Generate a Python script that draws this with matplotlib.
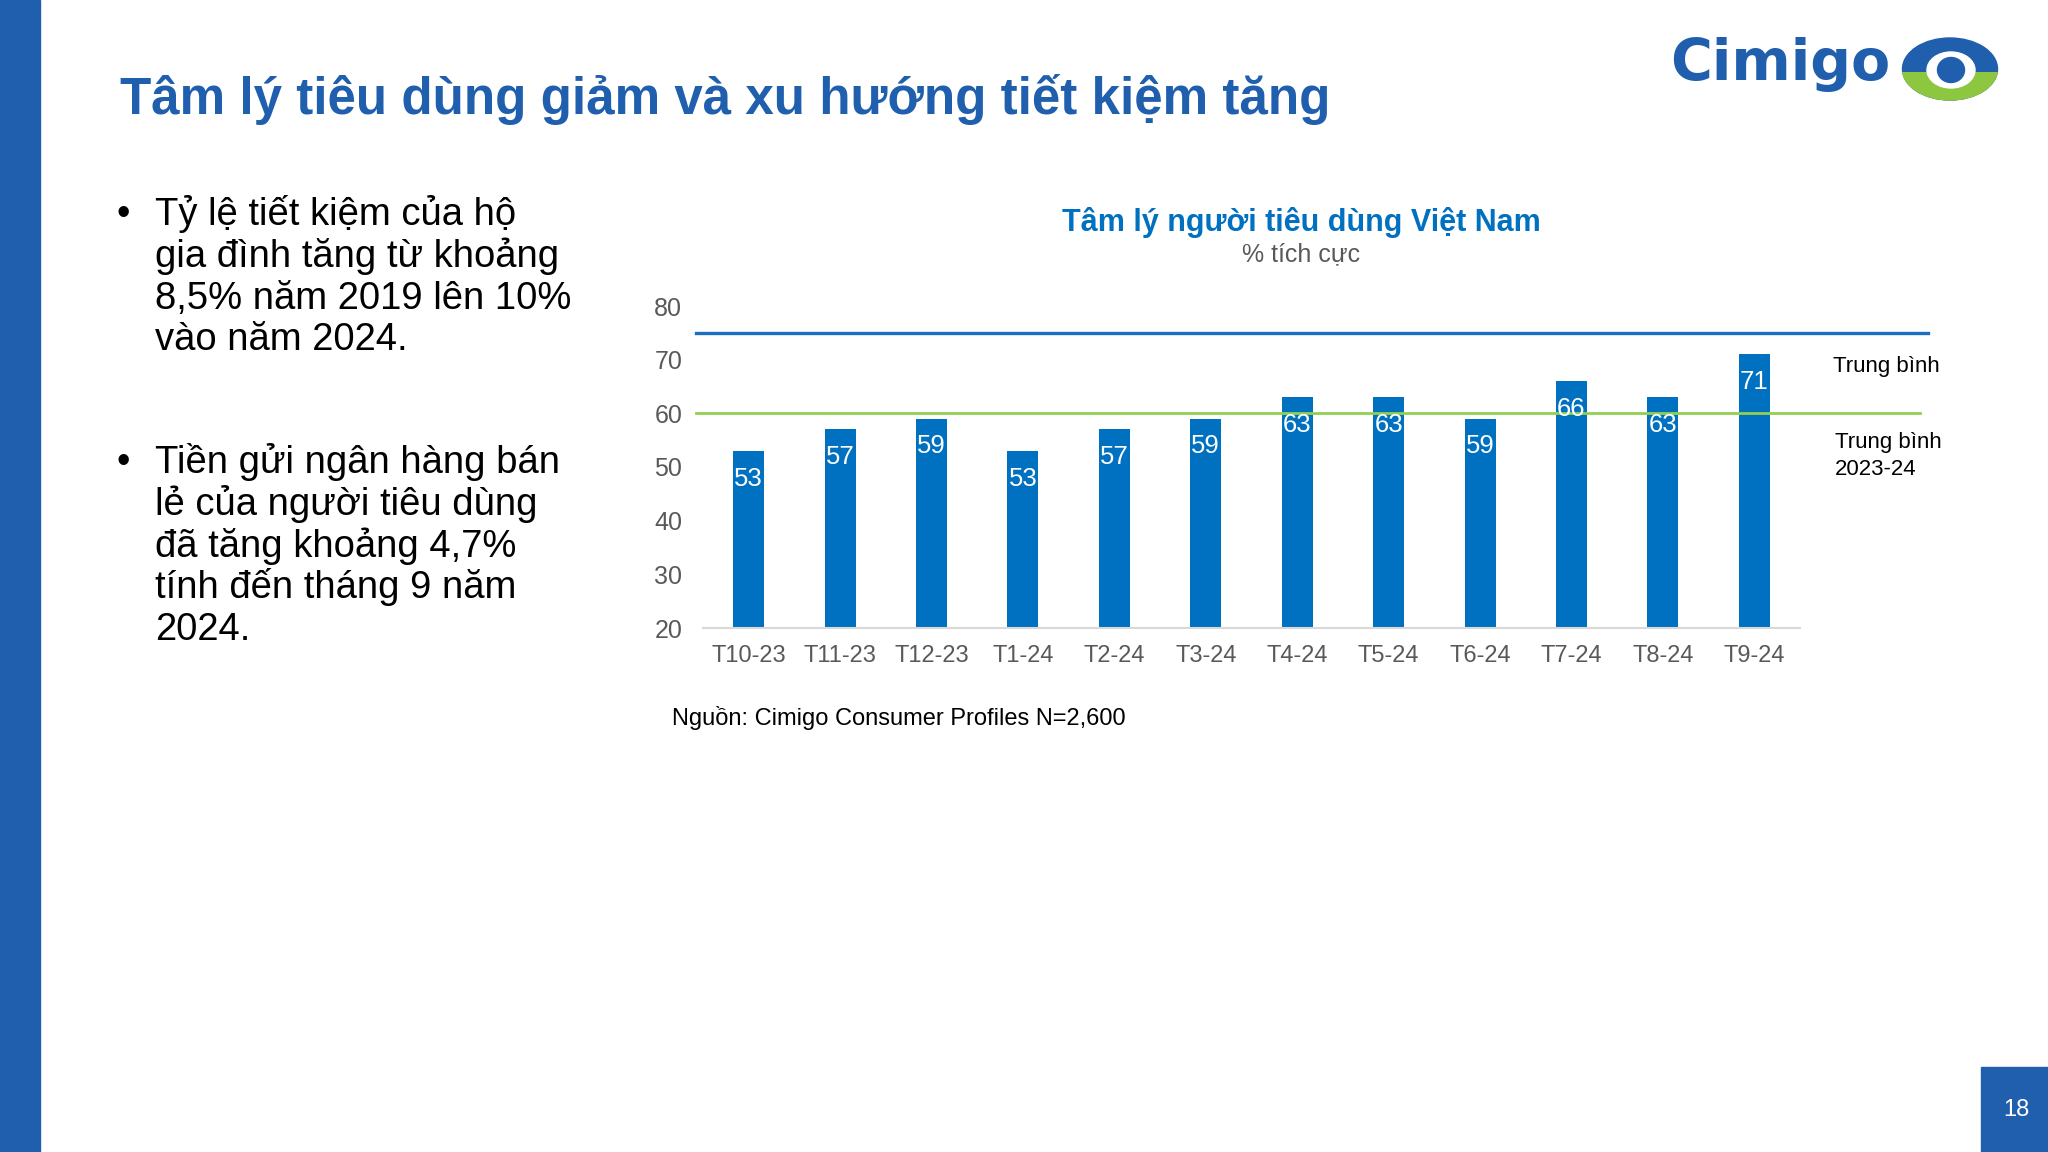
"""
Slide: Tâm lý tiêu dùng giảm và xu hướng tiết kiệm tăng (Cimigo).
Cột = % tích cực theo tháng, hai đường ngang = trung bình.
"""

import matplotlib

matplotlib.use("Agg")
import matplotlib.pyplot as plt
import matplotlib.transforms as mtransforms
from matplotlib.patches import Rectangle, Ellipse

plt.rcParams["font.family"] = ["Liberation Sans", "DejaVu Sans"]

# --- dữ liệu ---
months = ["T10-23", "T11-23", "T12-23", "T1-24", "T2-24", "T3-24",
          "T4-24", "T5-24", "T6-24", "T7-24", "T8-24", "T9-24"]
positive = [53, 57, 59, 53, 57, 59, 63, 63, 59, 66, 63, 71]
avg_all = 75        # Trung bình
avg_2324 = 60       # Trung bình 2023-24
y_ticks = [20, 30, 40, 50, 60, 70, 80]

bullet_1 = ["Tỷ lệ tiết kiệm của hộ", "gia đình tăng từ khoảng",
            "8,5% năm 2019 lên 10%", "vào năm 2024."]
bullet_2 = ["Tiền gửi ngân hàng bán", "lẻ của người tiêu dùng",
            "đã tăng khoảng 4,7%", "tính đến tháng 9 năm", "2024."]

BLUE_DARK = "#1F5FAD"
BAR_BLUE = "#0070C0"
LINE_BLUE = "#1A6DBF"
GREEN = "#92D050"
GREY = "#595959"

W, H = 2048, 1152
fig = plt.figure(figsize=(W / 100, H / 100), dpi=100)

# nền: toạ độ pixel, gốc ở góc trên trái
bg = fig.add_axes([0, 0, 1, 1])
bg.set_xlim(0, W)
bg.set_ylim(H, 0)
bg.axis("off")

bg.add_patch(Rectangle((0, 0), 40, H, color=BLUE_DARK))
bg.add_patch(Rectangle((1981, 1067), W - 1981, H - 1067, color=BLUE_DARK))
bg.text(2016, 1110, "18", color="white", fontsize=17, ha="center", va="center")

bg.text(120, 114, "Tâm lý tiêu dùng giảm và xu hướng tiết kiệm tăng",
        fontsize=36.8, weight="bold", color=BLUE_DARK, va="baseline")

# logo Cimigo (gần đúng)
bg.text(1670, 80, "Cimigo", family="DejaVu Sans", weight="bold",
        fontsize=41, color=BLUE_DARK, va="baseline")
bg.add_patch(Ellipse((1950, 69), 95, 62, color=BLUE_DARK))
green = Ellipse((1950, 69), 95, 62, color="#8DC63F")
bg.add_patch(green)
green.set_clip_path(Rectangle((1890, 72), 120, 40, transform=bg.transData))
bg.add_patch(Ellipse((1951, 70), 48, 36, color="white"))
bg.add_patch(Ellipse((1951, 70), 27, 25, color=BLUE_DARK))

# bullets
for lines, base in ((bullet_1, 225), (bullet_2, 473)):
    bg.text(116, base, "•", fontsize=27.5, va="baseline")
    for k, line in enumerate(lines):
        bg.text(155, base + 41.8 * k, line, fontsize=27.5, va="baseline")

# tiêu đề biểu đồ
bg.text(1301, 231, "Tâm lý người tiêu dùng Việt Nam", fontsize=22,
        weight="bold", color=BAR_BLUE, ha="center", va="baseline")
bg.text(1301, 261, "% tích cực", fontsize=18, color=GREY,
        ha="center", va="baseline")
bg.text(672, 725, "Nguồn: Cimigo Consumer Profiles N=2,600",
        fontsize=17, va="baseline")
bg.text(1833, 372, "Trung bình", fontsize=16, va="baseline")
bg.text(1835, 448, "Trung bình", fontsize=16, va="baseline")
bg.text(1835, 475, "2023-24", fontsize=16, va="baseline")

# --- biểu đồ cột ---
ax = fig.add_axes([703 / W, 1 - 628 / H, (1800 - 703) / W, (628 - 306) / H])
x = range(len(months))
ax.bar(x, positive, width=0.34, color=BAR_BLUE, zorder=2)
for i, v in zip(x, positive):
    ax.annotate(str(v), (i, v), xytext=(0, -20), textcoords="offset points",
                ha="center", va="center", color="white", fontsize=18.5, zorder=4)

trans = mtransforms.blended_transform_factory(ax.transAxes, ax.transData)
ax.plot([-0.006, 1.117], [avg_all, avg_all], transform=trans,
        clip_on=False, color=LINE_BLUE, lw=2.4, zorder=3)
ax.plot([-0.006, 1.109], [avg_2324, avg_2324], transform=trans,
        clip_on=False, color=GREEN, lw=2.0, zorder=3)

ax.set_xlim(-0.5, len(months) - 0.5)
ax.set_ylim(y_ticks[0], y_ticks[-1])
ax.set_yticks(y_ticks)
ax.set_xticks(list(x))
ax.set_xticklabels(months)
for s in ("top", "right", "left"):
    ax.spines[s].set_visible(False)
ax.spines["bottom"].set_color("#D9D9D9")
ax.spines["bottom"].set_linewidth(1.5)
ax.tick_params(axis="both", length=0, colors=GREY)
ax.tick_params(axis="y", labelsize=18, pad=15)
ax.tick_params(axis="x", labelsize=17, pad=12)
ax.patch.set_alpha(0)

fig.savefig("out.png", dpi=100)
